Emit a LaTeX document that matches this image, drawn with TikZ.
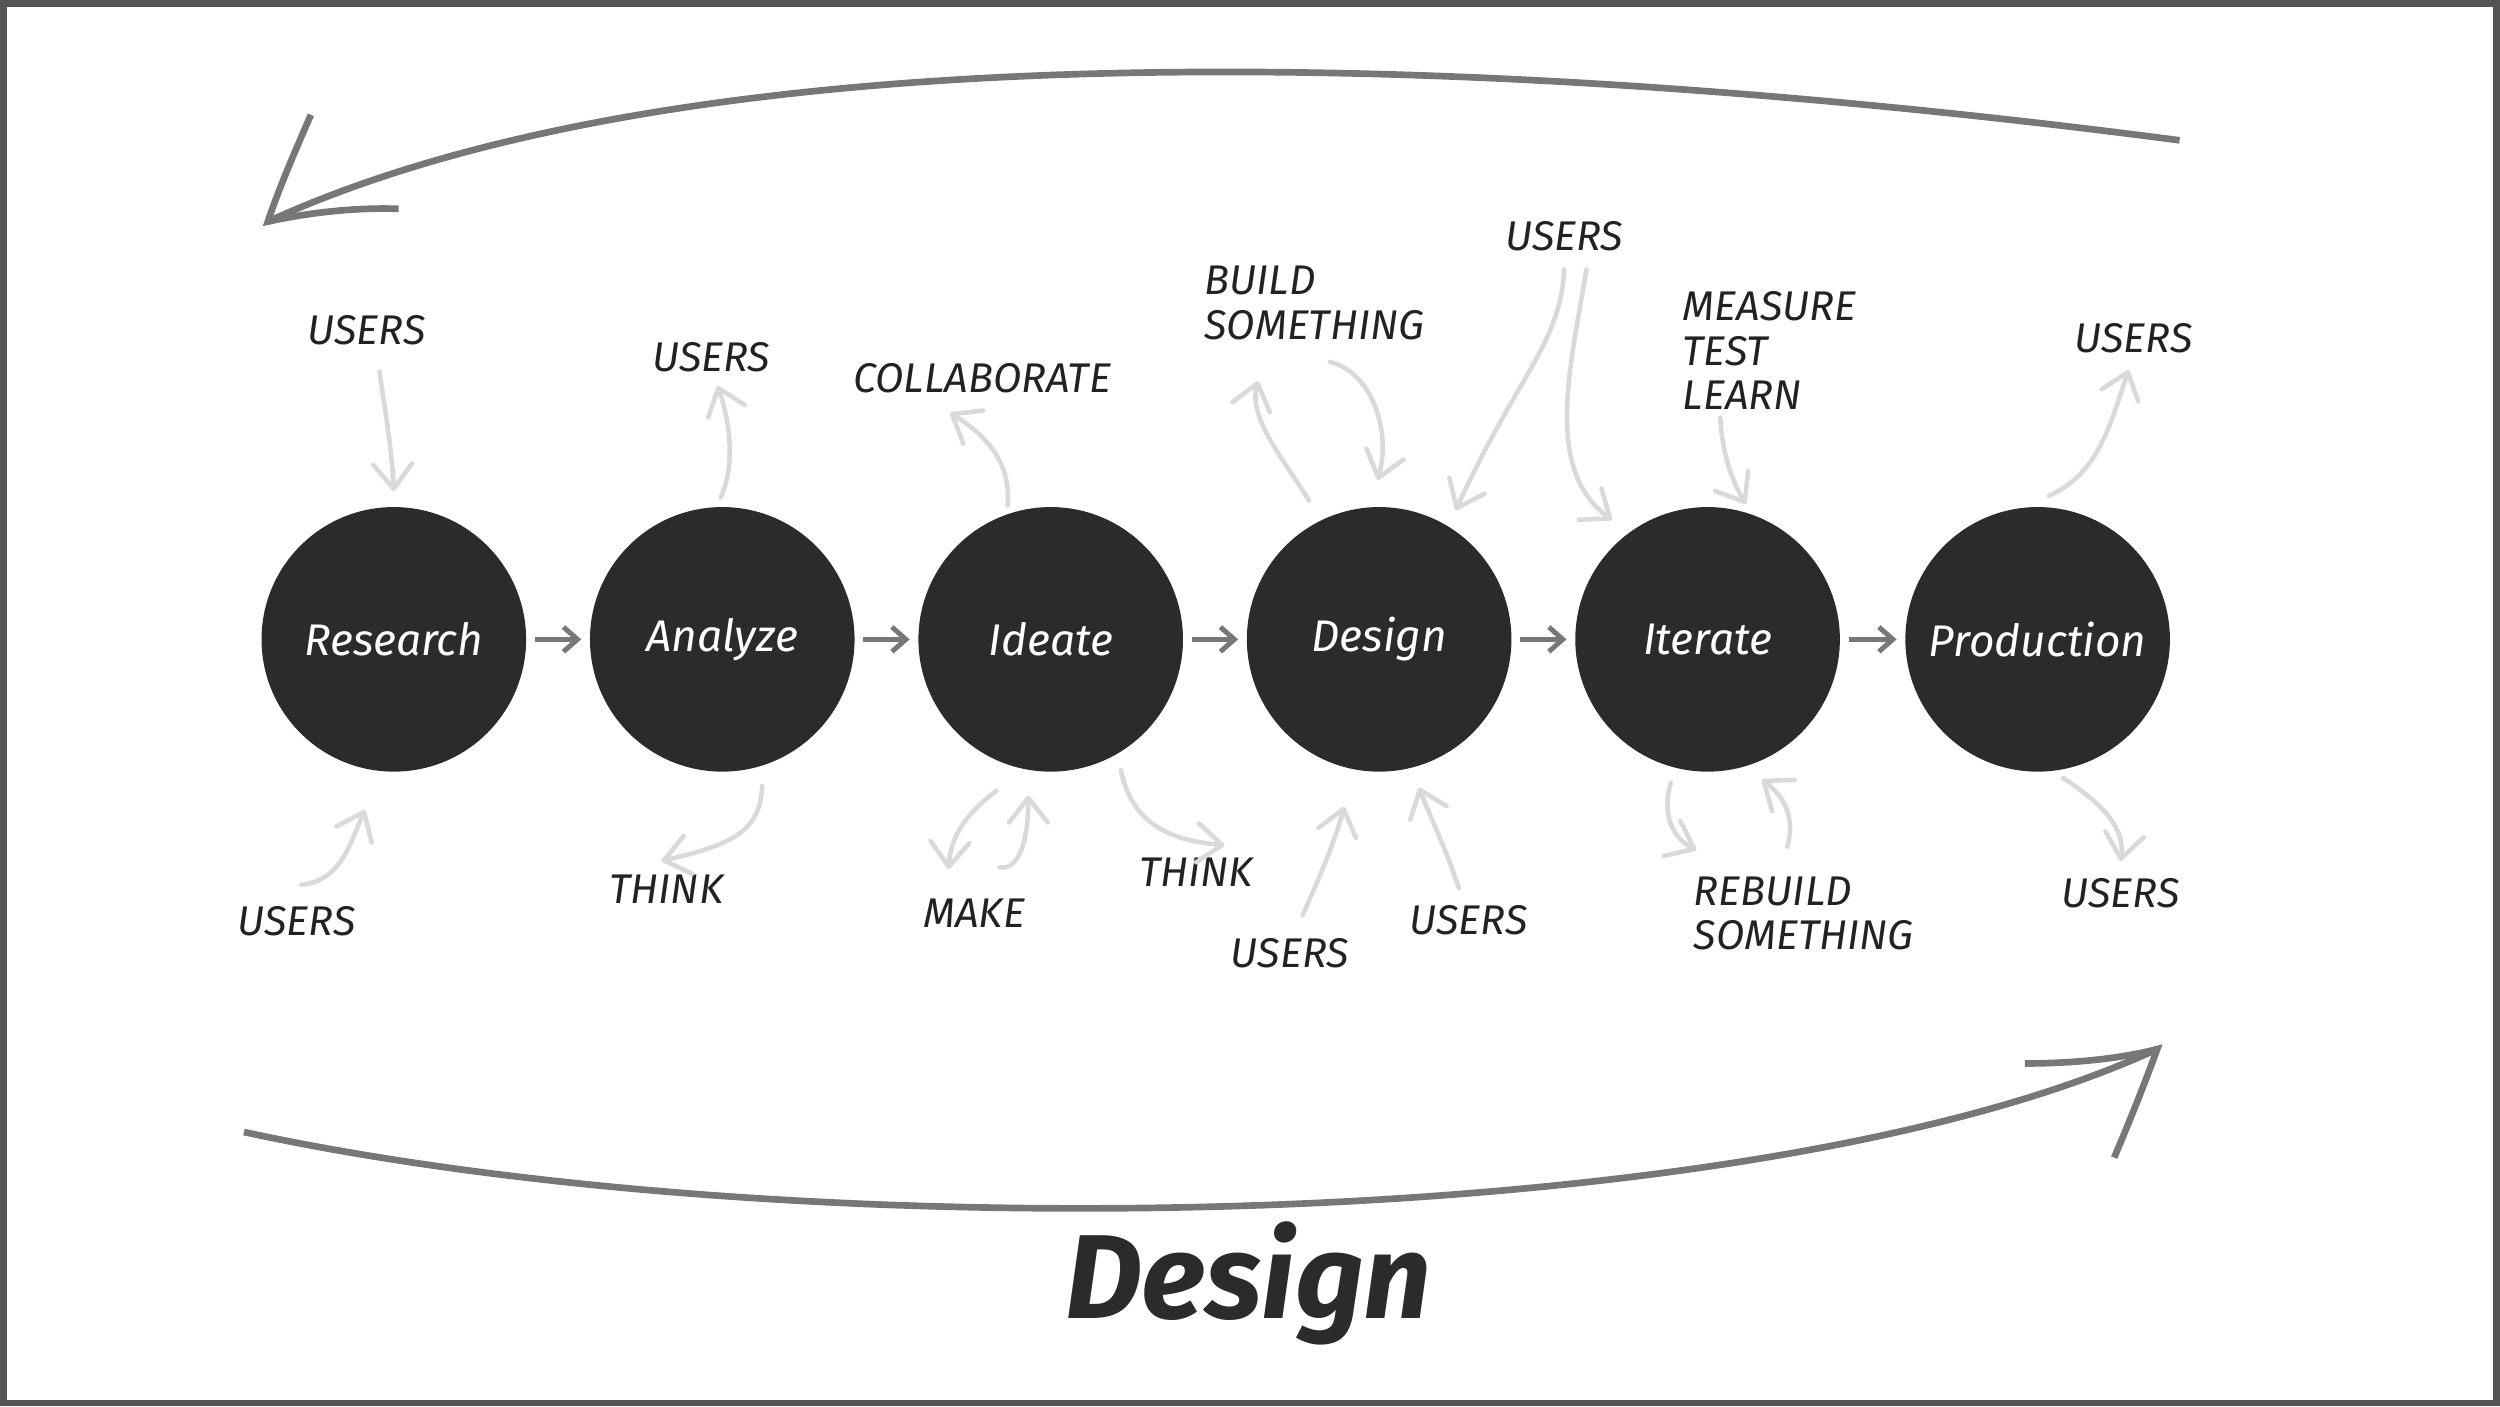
\documentclass[tikz,border=0pt]{standalone}
\usepackage{fontspec}
\setmainfont{Fira Sans}
\usetikzlibrary{arrows.meta}
\definecolor{disc}{HTML}{2B2B2B}
\definecolor{soft}{HTML}{D9D9D9}
\definecolor{mid}{HTML}{777777}
\definecolor{ink}{HTML}{222222}
\definecolor{frame}{HTML}{555555}
\begin{document}
\begin{tikzpicture}[x=0.01594cm,y=-0.01594cm,
  stage/.style={circle,fill=disc,draw=none,minimum size=2.646cm,inner sep=0pt,
    text=white,font=\fontsize{12.6}{15}\selectfont\itshape},
  lbl/.style={text=ink,inner sep=0pt,font=\fontsize{11.8}{12.7}\selectfont\itshape},
  mlbl/.style={lbl,align=left,anchor=west},
  softarrow/.style={draw=soft,line width=1.3pt,line cap=round,
    -{Straight Barb[length=7pt,width=11pt,line width=1.3pt,round]}},
  steparrow/.style={draw=mid,line width=1.6pt,
    -{Straight Barb[length=4pt,width=7pt,line width=1.4pt]}},
  bigline/.style={draw=mid,line width=1.9pt},
]
\useasboundingbox (0,0) rectangle (1568,882);
\draw[frame,line width=1.9pt] (2,2) rectangle (1566,880);

% stages
\node[stage] (res) at (247,401) {Research};
\node[stage] (ana) at (453,401) {Analyze};
\node[stage] (ide) at (659,401) {Ideate};
\node[stage] (des) at (865,401) {Design};
\node[stage] (ite) at (1071,401) {Iterate};
\node[stage] (pro) at (1278,401) {Production};

\foreach \a/\b in {res/ana,ana/ide,ide/des,des/ite,ite/pro}
  \draw[steparrow] ([xshift=0.08cm]\a.east) -- ([xshift=-0.08cm]\b.west);

% labels
\node[lbl] (u1) at (230,207) {USERS};
\node[lbl] (u2) at (446,224) {USERS};
\node[lbl] (col) at (616,237) {COLLABORATE};
\node[mlbl] (bld) at (755,190) {BUILD\\SOMETHING};
\node[lbl] (u3) at (981,148) {USERS};
\node[mlbl] (mtl) at (1055,220) {MEASURE\\TEST\\LEARN};
\node[lbl] (u4) at (1338,212) {USERS};
\node[lbl] (u5) at (186,578) {USERS};
\node[lbl] (th1) at (418,558) {THINK};
\node[lbl] (mk) at (611,573) {MAKE};
\node[lbl] (th2) at (750,547) {THINK};
\node[lbl] (u6) at (809,598) {USERS};
\node[lbl] (u7) at (921,577) {USERS};
\node[mlbl] (rbd) at (1062,573) {REBUILD\\SOMETHING};
\node[lbl] (u8) at (1330,560) {USERS};

% named free ends
\coordinate (a1s) at (238,233); \coordinate (a1e) at (247,308);
\coordinate (a2s) at (452,312); \coordinate (a2e) at (450,242);
\coordinate (a3s) at (632,317); \coordinate (a3e) at (596,259);
\coordinate (a4s) at (821,314); \coordinate (a4e) at (789,239);
\coordinate (a5s) at (834,227); \coordinate (a5e) at (864,301);
\coordinate (a6s) at (981,169); \coordinate (a6e) at (913,320);
\coordinate (a7s) at (995,169); \coordinate (a7e) at (1011,326);
\coordinate (a8s) at (1079,262); \coordinate (a8e) at (1095,316);
\coordinate (a9s) at (1285,311); \coordinate (a9e) at (1335,232);
\coordinate (b1s) at (189,555); \coordinate (b1e) at (229,508);
\coordinate (b2s) at (478,493); \coordinate (b2e) at (415,540);
\coordinate (b3s) at (625,496); \coordinate (b3e) at (595,545);
\coordinate (b4s) at (627,544); \coordinate (b4e) at (645,499);
\coordinate (b5s) at (703,483); \coordinate (b5e) at (768,530);
\coordinate (b6s) at (817,574); \coordinate (b6e) at (843,506);
\coordinate (b7s) at (915,557); \coordinate (b7e) at (890,494);
\coordinate (b8s) at (1048,491); \coordinate (b8e) at (1064,533);
\coordinate (b9s) at (1121,531); \coordinate (b9e) at (1105,489);
\coordinate (b10s) at (1294,488); \coordinate (b10e) at (1330,540);

% soft arrows above
\draw[softarrow] (a1s) .. controls (242,260) and (246,285) .. (a1e);
\draw[softarrow] (a2s) .. controls (462,290) and (457,262) .. (a2e);
\draw[softarrow] (a3s) .. controls (634,293) and (622,275) .. (a3e);
\draw[softarrow] (a4s) .. controls (803,285) and (783,262) .. (a4e);
\draw[softarrow] (a5s) .. controls (860,233) and (873,270) .. (a5e);
\draw[softarrow] (a6s) .. controls (979,215) and (952,235) .. (a6e);
\draw[softarrow] (a7s) .. controls (985,230) and (968,295) .. (a7e);
\draw[softarrow] (a8s) .. controls (1080,285) and (1087,303) .. (a8e);
\draw[softarrow] (a9s) .. controls (1316,297) and (1323,268) .. (a9e);
% soft arrows below
\draw[softarrow] (b1s) .. controls (214,552) and (219,530) .. (b1e);
\draw[softarrow] (b2s) .. controls (477,522) and (458,530) .. (b2e);
\draw[softarrow] (b3s) .. controls (606,510) and (596,525) .. (b3e);
\draw[softarrow] (b4s) .. controls (641,546) and (645,522) .. (b4e);
\draw[softarrow] (b5s) .. controls (709,512) and (728,527) .. (b5e);
\draw[softarrow] (b6s) .. controls (830,545) and (838,525) .. (b6e);
\draw[softarrow] (b7s) .. controls (906,530) and (896,510) .. (b7e);
\draw[softarrow] (b8s) .. controls (1042,510) and (1049,526) .. (b8e);
\draw[softarrow] (b9s) .. controls (1127,510) and (1116,497) .. (b9e);
\draw[softarrow] (b10s) .. controls (1320,505) and (1333,520) .. (b10e);

% big top arrow
\coordinate (tr) at (1367,88);
\coordinate (tl) at (168,139);
\draw[bigline,line cap=butt] (tr) .. controls (1000,40) and (460,5) .. (tl);
\draw[bigline,line join=miter] (195,72) .. controls (185,95) and (175,118) .. (tl)
  .. controls (195,133) and (225,130) .. (250,131);
% big bottom arrow
\coordinate (bl) at (153,710);
\coordinate (br) at (1353,658);
\draw[bigline] (bl) .. controls (500,785) and (1100,775) .. (br);
\draw[bigline,line join=miter] (1326,726) .. controls (1335,705) and (1345,680) .. (br)
  .. controls (1330,664) and (1300,667) .. (1270,667);

% title
\node[text=disc,inner sep=0pt,font=\fontsize{34}{40}\selectfont\bfseries\itshape] (ttl) at (783,805) {Design};
\end{tikzpicture}
\end{document}
